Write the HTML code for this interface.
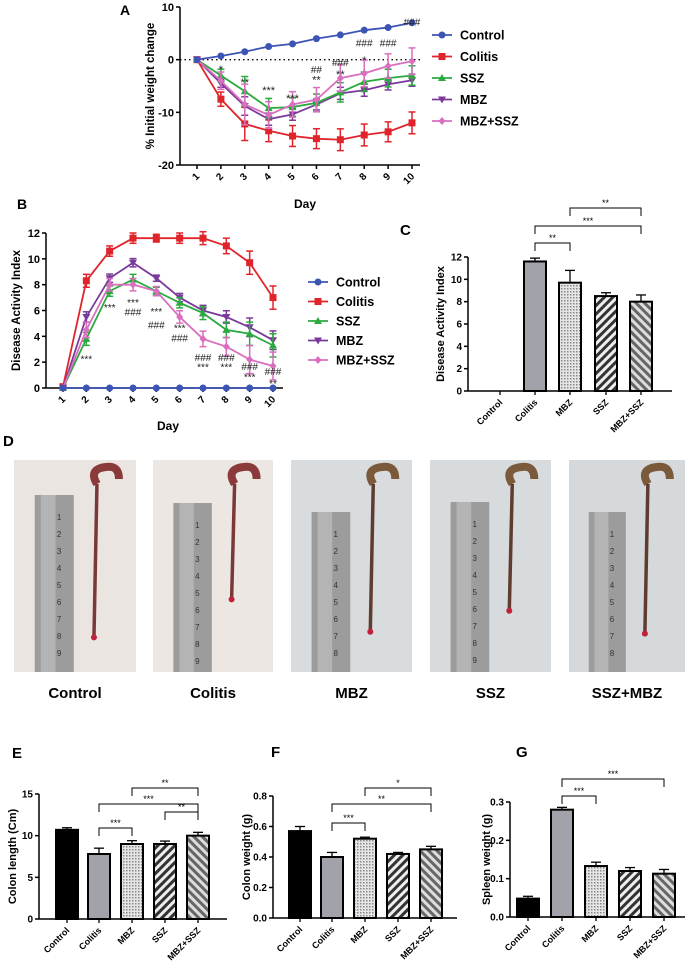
<!DOCTYPE html>
<html><head><meta charset="utf-8"><style>
html,body{margin:0;padding:0;background:#fff}
svg{display:block;font-family:"Liberation Sans",Arial,sans-serif}
</style></head><body>
<svg id="fig" width="685" height="963" viewBox="0 0 685 963" xmlns="http://www.w3.org/2000/svg">
<defs>
<pattern id="dots" width="3" height="3" patternUnits="userSpaceOnUse"><rect width="3" height="3" fill="#e6e6e6"/><rect width="1.5" height="1.5" fill="#888"/></pattern>
<pattern id="bs" width="6" height="6" patternUnits="userSpaceOnUse" patternTransform="rotate(45)"><rect width="6" height="6" fill="#eee"/><rect width="3" height="6" fill="#333"/></pattern>
<pattern id="fs" width="6" height="6" patternUnits="userSpaceOnUse" patternTransform="rotate(-45)"><rect width="6" height="6" fill="#ddd"/><rect width="3" height="6" fill="#666"/></pattern>
</defs>
<g id="root"></g>
</svg>
<script>
// ---- Panel A data (weight change) ----
const days = [1,2,3,4,5,6,7,8,9,10];
const aControl = [0,0.7,1.5,2.5,3,4,4.7,5.6,6.1,7];
const aColitis = [0,-7.5,-12.2,-13.5,-14.5,-15,-15.2,-14.3,-13.7,-12];
const aSSZ = [0,-3,-6,-9.2,-9,-8.2,-6.2,-4.2,-3.5,-3];
const aMBZ = [0,-4.5,-8.8,-11.3,-10.4,-8.5,-6.4,-5.8,-4.7,-3.9];
const aCombo = [0,-4,-8.5,-10.5,-8.5,-7.6,-3.5,-2.6,-1.2,-0.3];
const aErr = [0,1.5,3.5,2.3,2.2,2.1,2.3,2.3,2.1,2.3];
const aTicks = [10,0,-10,-20];
// ---- Panel B data (DAI) ----
const bControl = [0,0,0,0,0,0,0,0,0,0];
const bColitis = [0.1,8.3,10.6,11.6,11.6,11.6,11.6,11,9.7,7];
const bSSZ = [0,3.8,7.5,8.4,7.5,6.6,5.8,4.5,4.2,3.3];
const bMBZ = [0,5.5,8.5,9.7,8.5,7,6,5.5,4.7,3.7];
const bCombo = [0,4.5,8,8,7.5,5.5,3.8,3.2,2.2,1.7];
const bErr = [0,0.5,0.4,0.4,0.3,0.4,0.5,0.6,0.9,0.9];
const bTicks = [0,2,4,6,8,10,12];
// ---- bar panels ----
const groups = ['Control','Colitis','MBZ','SSZ','MBZ+SSZ'];
const cVals = [0,11.6,9.7,8.5,8.0];
const cErr = [0,0.3,1.1,0.3,0.6];
const cTicks = [0,2,4,6,8,10,12];
const eVals = [10.7,7.8,9.0,9.0,10.0];
const eErr = [0.25,0.7,0.4,0.35,0.4];
const eTicks = [0,5,10,15];
const fVals = [0.57,0.40,0.52,0.42,0.45];
const fErr = [0.03,0.03,0.01,0.01,0.02];
const fTicks = [0.0,0.2,0.4,0.6,0.8];
const gVals = [0.048,0.28,0.133,0.12,0.113];
const gErr = [0.006,0.006,0.01,0.009,0.011];
const gTicks = [0.0,0.1,0.2,0.3];
const photoLabels = ['Control','Colitis','MBZ','SSZ','SSZ+MBZ'];

const NS='http://www.w3.org/2000/svg';
const root=document.getElementById('root');
function mk(tag,attrs,parent,text){const e=document.createElementNS(NS,tag);for(const k in attrs)e.setAttribute(k,attrs[k]);if(text!==undefined)e.textContent=text;(parent||root).appendChild(e);return e;}
function grp(name){const g=mk('g',{});return g;}
function lin(d0,d1,r0,r1){return v=>r0+(v-d0)*(r1-r0)/(d1-d0);}
const colors={Control:'#3c55b5',Colitis:'#e0242b',SSZ:'#2aaa3f',MBZ:'#7a3a9a',Combo:'#d96fbe'};

function marker(g,shape,x,y,c){
  if(shape==='circle')mk('circle',{cx:x,cy:y,r:3.5,fill:c},g);
  else if(shape==='square')mk('rect',{x:x-3.5,y:y-3.5,width:7,height:7,fill:c},g);
  else if(shape==='up')mk('polygon',{points:`${x},${y-4} ${x-4},${y+3} ${x+4},${y+3}`,fill:c},g);
  else if(shape==='down')mk('polygon',{points:`${x},${y+4} ${x-4},${y-3} ${x+4},${y-3}`,fill:c},g);
  else mk('polygon',{points:`${x},${y-4} ${x+3.5},${y} ${x},${y+4} ${x-3.5},${y}`,fill:c},g);
}
function series(g,xs,ys,vals,err,c,shape,name){
  const s=mk('g',{},g);
  mk('polyline',{points:vals.map((v,i)=>xs(days[i])+','+ys(v)).join(' '),fill:'none',stroke:c,'stroke-width':1.8},s);
  vals.forEach((v,i)=>{
    const x=xs(days[i]);const e=err?err[i]:0;
    if(e>0){mk('line',{x1:x,x2:x,y1:ys(v-e),y2:ys(v+e),stroke:c,'stroke-width':1.5},s);
      [v-e,v+e].forEach(w=>mk('line',{x1:x-3.5,x2:x+3.5,y1:ys(w),y2:ys(w),stroke:c,'stroke-width':1.5},s));}
    marker(s,shape,x,ys(v),c);
  });
}
function lineAxes(g,xs,ys,ticks,ymin,ymax,xEnd,title,titleX){
  const ax=xs(1)-17;
  mk('line',{x1:ax,x2:ax,y1:ys(ymax),y2:ys(ymin),stroke:'#000','stroke-width':1.5},g);
  mk('line',{x1:ax,x2:xEnd,y1:ys(ymin),y2:ys(ymin),stroke:'#000','stroke-width':1.5},g);
  ticks.forEach(t=>{mk('line',{x1:ax-4,x2:ax,y1:ys(t),y2:ys(t),stroke:'#000','stroke-width':1.5},g);
    mk('text',{x:ax-6,y:ys(t)+4,'text-anchor':'end','font-size':11,'font-weight':'bold'},g,String(t));});
  days.forEach(d=>{const x=xs(d);mk('line',{x1:x,x2:x,y1:ys(ymin),y2:ys(ymin)+4,stroke:'#000','stroke-width':1.5},g);
    mk('text',{x:x+3,y:ys(ymin)+12,'text-anchor':'end','font-size':10,'font-weight':'bold',transform:`rotate(-45 ${x+3} ${ys(ymin)+12})`},g,String(d));});
  const my=(ys(ymin)+ys(ymax))/2;
  mk('text',{x:titleX,y:my,'text-anchor':'middle','font-size':11.5,'font-weight':'bold',transform:`rotate(-90 ${titleX} ${my})`},g,title);
}
function legend(g,x,ys0,step){
  const items=[['Control','circle',colors.Control],['Colitis','square',colors.Colitis],['SSZ','up',colors.SSZ],['MBZ','down',colors.MBZ],['MBZ+SSZ','diamond',colors.Combo]];
  items.forEach((it,i)=>{const y=ys0+i*step;const l=mk('g',{},g);
    mk('line',{x1:x,x2:x+20,y1:y,y2:y,stroke:it[2],'stroke-width':1.8},l);marker(l,it[1],x+10,y,it[2]);
    mk('text',{x:x+28,y:y+4.5,'font-size':12.5,'font-weight':'bold'},l,it[0]);});
}
function stars(g,x,y,t,fs){mk('text',{x:x,y:y,'text-anchor':'middle','font-size':fs||10,fill:'#222'},g,t);}

// ===== Panel A =====
(function(){
  const g=grp('panel-a-weight-chart');
  const xs=lin(1,10,197,412), ys=lin(-20,10,165,7);
  mk('text',{x:120,y:15,'font-size':14,'font-weight':'bold'},g,'A');
  lineAxes(g,xs,ys,aTicks,-20,10,420,'% Initial weight change',154);
  mk('line',{x1:180,x2:420,y1:ys(0),y2:ys(0),stroke:'#000','stroke-width':1.3,'stroke-dasharray':'1.5,3'},g);
  series(g,xs,ys,aColitis,aErr.map(e=>e*0.9),colors.Colitis,'square','series-colitis');
  series(g,xs,ys,aMBZ,aErr.map(e=>e*0.5),colors.MBZ,'down','series-mbz');
  series(g,xs,ys,aSSZ,aErr.map(e=>e*0.8),colors.SSZ,'up','series-ssz');
  series(g,xs,ys,aCombo,aErr.map(e=>e*1.1),colors.Combo,'diamond','series-mbz-ssz');
  series(g,xs,ys,aControl,null,colors.Control,'circle','series-control');
  [[2,'*',-2.5],[3,'**',-5],[4,'***',-6.5],[5,'***',-8],[6,'**',-4.5],[7,'**',-3.5],[8,'*',-0.8]].forEach(s=>stars(g,xs(s[0]),ys(s[2]),s[1],11));
  [[6,'##',-2.5],[7,'###',-1.2],[8,'###',2.5],[9,'###',2.5],[10,'###',6.5]].forEach(s=>stars(g,xs(s[0]),ys(s[2]),s[1],10));
  mk('text',{x:305,y:208,'text-anchor':'middle','font-size':12,'font-weight':'bold'},g,'Day');
  legend(g,432,35,21.5);
})();

// ===== Panel B =====
(function(){
  const g=grp('panel-b-dai-chart');
  const xs=lin(1,10,63,273), ys=lin(0,12,388,233);
  mk('text',{x:17,y:209,'font-size':14,'font-weight':'bold'},g,'B');
  lineAxes(g,xs,ys,bTicks,0,12,283,'Disease Activity Index',20);
  series(g,xs,ys,bColitis,bErr,colors.Colitis,'square','series-colitis');
  series(g,xs,ys,bMBZ,bErr.map(e=>e*0.8),colors.MBZ,'down','series-mbz');
  series(g,xs,ys,bSSZ,bErr,colors.SSZ,'up','series-ssz');
  series(g,xs,ys,bCombo,bErr.map(e=>e*1.2),colors.Combo,'diamond','series-mbz-ssz');
  series(g,xs,ys,bControl,null,colors.Control,'circle','series-control');
  [[2,'***',2.2],[3,'***',6.2],[4,'***',6.6],[5,'***',5.9],[6,'***',4.6],[7,'***',1.6],[8,'***',1.6],[9,'***',0.8],[10,'**',0.3]].forEach(s=>stars(g,xs(s[0]),ys(s[2])+3,s[1],10));
  [[4,'###',5.6],[5,'###',4.6],[6,'###',3.6],[7,'###',2.1],[8,'###',2.1],[9,'###',1.4],[10,'###',1.0]].forEach(s=>stars(g,xs(s[0]),ys(s[2]),s[1],10));
  mk('text',{x:168,y:430,'text-anchor':'middle','font-size':12,'font-weight':'bold'},g,'Day');
  legend(g,308,282,19.5);
})();

// ===== bar chart helper =====
function barChart(name,letter,lx,ly,axX,y0,yTop,vals,err,ticks,ymax,centers,bw,axEnd,title,titleX,brackets,fmt){
  const g=grp(name);
  const ys=lin(0,ymax,y0,yTop);
  mk('text',{x:lx,y:ly,'font-size':15,'font-weight':'bold'},g,letter);
  mk('line',{x1:axX,x2:axX,y1:ys(ymax),y2:y0,stroke:'#000','stroke-width':1.5},g);
  mk('line',{x1:axX,x2:axEnd,y1:y0,y2:y0,stroke:'#000','stroke-width':1.5},g);
  ticks.forEach(t=>{mk('line',{x1:axX-4,x2:axX,y1:ys(t),y2:ys(t),stroke:'#000','stroke-width':1.5},g);
    mk('text',{x:axX-6,y:ys(t)+3.5,'text-anchor':'end','font-size':10,'font-weight':'bold'},g,fmt(t));});
  const fills=['#000','#a2a2aa','url(#dots)','url(#bs)','url(#fs)'];
  vals.forEach((v,i)=>{
    const cx=centers[i];
    const b=mk('g',{},g);
    if(v>0){
      mk('line',{x1:cx,x2:cx,y1:ys(v),y2:ys(v+err[i]),stroke:'#000','stroke-width':1.3},b);
      mk('line',{x1:cx-5,x2:cx+5,y1:ys(v+err[i]),y2:ys(v+err[i]),stroke:'#000','stroke-width':1.3},b);
      mk('rect',{x:cx-bw/2,y:ys(v),width:bw,height:y0-ys(v),fill:fills[i],stroke:'#000','stroke-width':2},b);
    }
    mk('line',{x1:cx,x2:cx,y1:y0,y2:y0+4,stroke:'#000','stroke-width':1.3},g);
    mk('text',{x:cx+3,y:y0+12,'text-anchor':'end','font-size':9,'font-weight':'bold',transform:`rotate(-45 ${cx+3} ${y0+12})`},g,groups[i]);
  });
  brackets.forEach(br=>{const a=centers[br[0]],c=centers[br[1]],y=br[2];
    mk('polyline',{points:`${a},${y+8} ${a},${y} ${c},${y} ${c},${y+8}`,fill:'none',stroke:'#000','stroke-width':1},g);
    mk('text',{x:(a+c)/2,y:y-2,'text-anchor':'middle','font-size':9},g,br[3]);});
  const my=(y0+ys(ymax))/2;
  mk('text',{x:titleX,y:my,'text-anchor':'middle','font-size':11,'font-weight':'bold',transform:`rotate(-90 ${titleX} ${my})`},g,title);
}
barChart('panel-c-dai-bars','C',400,235,468,391,257,cVals,cErr,cTicks,12,[500,535,570,606,641],22,672,'Disease Activity Index',444,
  [[1,2,243,'**'],[1,4,226,'***'],[2,4,208,'**']],t=>String(t));
barChart('panel-e-colon-length','E',12,758,39,919,794,eVals,eErr,eTicks,15,[67,99,132,165,198],22,227,'Colon length (Cm)',16,
  [[1,2,828,'***'],[3,4,812,'**'],[1,4,804,'***'],[2,4,788,'**']],t=>String(t));
barChart('panel-f-colon-weight','F',271,757,273,918,796,fVals,fErr,fTicks,0.8,[300,332,365,398,431],22,457,'Colon weight (g)',250,
  [[1,2,823,'***'],[1,4,804,'**'],[2,4,788,'*']],t=>t.toFixed(1));
barChart('panel-g-spleen-weight','G',516,757,510,917,802,gVals,gErr,gTicks,0.3,[528,562,596,630,664],22,685,'Spleen weight (g)',490,
  [[1,2,796,'***'],[1,4,779,'***']],t=>t.toFixed(1));

// ===== Panel D photos =====
(function(){
  const g=grp('panel-d-colon-photos');
  mk('text',{x:3,y:446,'font-size':15,'font-weight':'bold'},g,'D');
  const top0=460, bot0=672, H=bot0-top0;
  const boxes=[[14,136,'#ebe5e1'],[153,273,'#ece7e3'],[291,412,'#d9dcde'],[430,551,'#d8dbdd'],[569,685,'#d6d9db']];
  const lens=[0.86,0.66,0.83,0.72,0.84];
  const rulerTop=[35,43,52,42,52];
  boxes.forEach((b,i)=>{
    const p=mk('g',{},g);
    const w=b[1]-b[0];
    mk('rect',{x:b[0],y:top0,width:w,height:H,fill:b[2]},p);
    const rx=b[0]+w*0.17, rt=top0+rulerTop[i];
    mk('rect',{x:rx,y:rt,width:w*0.32,height:bot0-rt,fill:'#9c9c9c'},p);
    mk('rect',{x:rx+w*0.05,y:rt,width:w*0.12,height:bot0-rt,fill:'#b4b4b4'},p);
    for(let k=1;k<=11;k++){const ty=rt+8+k*17;if(ty<bot0-3)mk('text',{x:rx+w*0.2,y:ty,'font-size':8,fill:'#333','text-anchor':'middle'},p,String(k));}
    const cx=b[0]+w*0.68, top=top0+14, bot=top0+14+190*lens[i];
    mk('path',{d:`M${cx} ${top+10} q-9 -15 9 -17 q13 -2 13 12`,fill:'none',stroke:i<2?'#8a3a3a':'#7a5a3a','stroke-width':8},p);
    mk('line',{x1:cx,x2:cx-3,y1:top+10,y2:bot,stroke:i<2?'#7a3838':'#5f3b30','stroke-width':3.5},p);
    mk('circle',{cx:cx-3,cy:bot,r:3,fill:'#c0203a'},p);
    mk('text',{x:(b[0]+b[1])/2,y:698,'text-anchor':'middle','font-size':15,'font-weight':'bold'},g,photoLabels[i]);
  });
})();
</script>
</body></html>
